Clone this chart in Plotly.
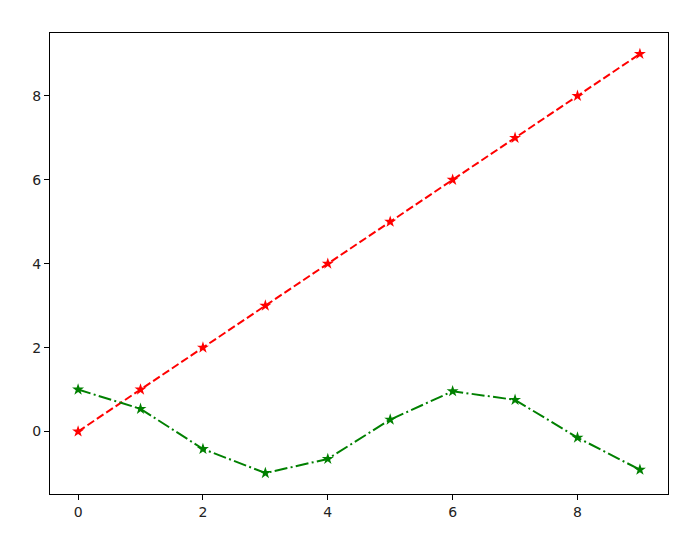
import plotly.graph_objects as go

x_vals = [0, 1, 2, 3, 4, 5, 6, 7, 8, 9]
red_vals = [0, 1, 2, 3, 4, 5, 6, 7, 8, 9]
green_vals = [1.0, 0.54, -0.416, -0.99, -0.654, 0.284, 0.96, 0.754, -0.146, -0.911]

fig = go.Figure()
fig.add_trace(go.Scatter(
    x=x_vals, y=red_vals, mode="lines+markers",
    line=dict(color="#ff0000", width=2, dash="8px,3.3px"),
    marker=dict(symbol="star", size=9, color="#ff0000"),
))
fig.add_trace(go.Scatter(
    x=x_vals, y=green_vals, mode="lines+markers",
    line=dict(color="#008000", width=2, dash="13px,3.3px,2px,3.3px"),
    marker=dict(symbol="star", size=9, color="#008000"),
))

axis_style = dict(
    showgrid=False, zeroline=False, showline=True, linecolor="black", linewidth=1,
    mirror=True, ticks="outside", ticklen=5, tickcolor="black", tickwidth=1,
    tickfont=dict(family="DejaVu Sans", size=14, color="#222"),
)
fig.update_xaxes(range=[-0.45, 9.45], tickvals=[0, 2, 4, 6, 8], **axis_style)
fig.update_yaxes(range=[-1.4895, 9.4995], tickvals=[0, 2, 4, 6, 8], **axis_style)

fig.update_layout(
    width=695, height=559,
    margin=dict(l=42, r=35, t=25, b=73),
    plot_bgcolor="white", paper_bgcolor="white",
    showlegend=False,
)
fig.write_html("out.html")
